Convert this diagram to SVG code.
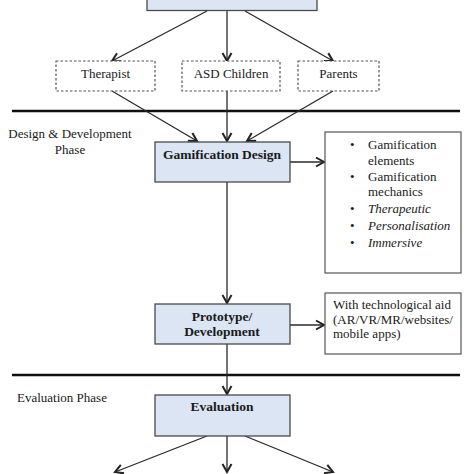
<svg xmlns="http://www.w3.org/2000/svg" width="474" height="474" viewBox="0 0 474 474">
<defs>
<marker id="ah" markerUnits="userSpaceOnUse" markerWidth="12" markerHeight="12" refX="9" refY="5" orient="auto" viewBox="0 0 12 10">
<path d="M1,0.5 L9,5 L1,9.5" fill="none" stroke="#222" stroke-width="2"/>
</marker>
</defs>
<style>
.bl{fill:#dbe5f3;stroke:#4a4a4a;stroke-width:1.3}
.ds{fill:#fff;stroke:#555;stroke-width:1.2;stroke-dasharray:2.5 2}
.wb{fill:#fff;stroke:#555;stroke-width:1.2}
.c{fill:none;stroke:#2a2a2a;stroke-width:1.3}
.ph{stroke:#111;stroke-width:2.6}
text{font-family:"Liberation Serif","Times New Roman",serif;fill:#1a1a1a}
.b{font-weight:bold;font-size:13.5px;text-anchor:middle}
.r{font-size:13px;text-anchor:middle}
.l{font-size:13px}
.i{font-style:italic}
</style>
<rect width="474" height="474" fill="#fff"/>
<g id="phases">
<line class="ph" x1="12" y1="111" x2="460" y2="111"/>
<line class="ph" x1="12" y1="375" x2="460" y2="375"/>
<text class="r" x="70" y="138" font-size="12.5">Design &amp; Development</text>
<text class="r" x="70" y="154" font-size="12.5">Phase</text>
<text class="l" x="17" y="402" font-size="12.5">Evaluation Phase</text>
</g>
<g id="connectors">
<line class="c" x1="207" y1="11" x2="112" y2="61" marker-end="url(#ah)"/>
<line class="c" x1="227" y1="11" x2="227" y2="61" marker-end="url(#ah)"/>
<line class="c" x1="245" y1="11" x2="333" y2="61" marker-end="url(#ah)"/>
<line class="c" x1="112" y1="91" x2="197" y2="141" marker-end="url(#ah)"/>
<line class="c" x1="227" y1="91" x2="227" y2="141" marker-end="url(#ah)"/>
<line class="c" x1="333" y1="91" x2="247" y2="141" marker-end="url(#ah)"/>
<line class="c" x1="290" y1="162" x2="324" y2="162" marker-end="url(#ah)"/>
<line class="c" x1="227" y1="182" x2="227" y2="303" marker-end="url(#ah)"/>
<line class="c" x1="290" y1="325" x2="324" y2="325" marker-end="url(#ah)"/>
<line class="c" x1="227" y1="344" x2="227" y2="394" marker-end="url(#ah)"/>
<line class="c" x1="207" y1="436" x2="115" y2="472" marker-end="url(#ah)"/>
<line class="c" x1="227" y1="436" x2="227" y2="472" marker-end="url(#ah)"/>
<line class="c" x1="245" y1="436" x2="333" y2="472" marker-end="url(#ah)"/>
</g>
<g id="top"><rect class="bl" x="147" y="-30" width="170" height="40.5"/></g>
<g id="therapist"><rect class="ds" x="56" y="61" width="99" height="30"/><text class="r" x="105.5" y="78">Therapist</text></g>
<g id="asd"><rect class="ds" x="182" y="61" width="98" height="30"/><text class="r" x="231" y="78">ASD Children</text></g>
<g id="parents"><rect class="ds" x="298" y="61" width="81" height="30"/><text class="r" x="338.5" y="78">Parents</text></g>
<g id="gamification-design"><rect class="bl" x="155" y="142" width="135" height="40"/><text class="b" x="222" y="159">Gamification Design</text></g>
<g id="elements">
<rect class="wb" x="325" y="132" width="136" height="141"/>
<g class="l">
<text x="350" y="149">•</text><text x="368" y="149">Gamification</text>
<text x="368" y="165">elements</text>
<text x="350" y="181">•</text><text x="368" y="181">Gamification</text>
<text x="368" y="196">mechanics</text>
<text x="350" y="213">•</text><text class="i" x="368" y="213">Therapeutic</text>
<text x="350" y="230">•</text><text class="i" x="368" y="230">Personalisation</text>
<text x="350" y="247">•</text><text class="i" x="368" y="247">Immersive</text>
</g>
</g>
<g id="prototype"><rect class="bl" x="155" y="304" width="135" height="40"/><text class="b" x="222" y="321">Prototype/</text><text class="b" x="222" y="336">Development</text></g>
<g id="tech"><rect class="wb" x="325" y="293" width="136" height="61"/>
<text class="l" x="333" y="309">With technological aid</text>
<text class="l" x="333" y="324">(AR/VR/MR/websites/</text>
<text class="l" x="333" y="338">mobile apps)</text></g>
<g id="evaluation"><rect class="bl" x="155" y="395" width="135" height="41"/><text class="b" x="222" y="411">Evaluation</text></g>
</svg>
